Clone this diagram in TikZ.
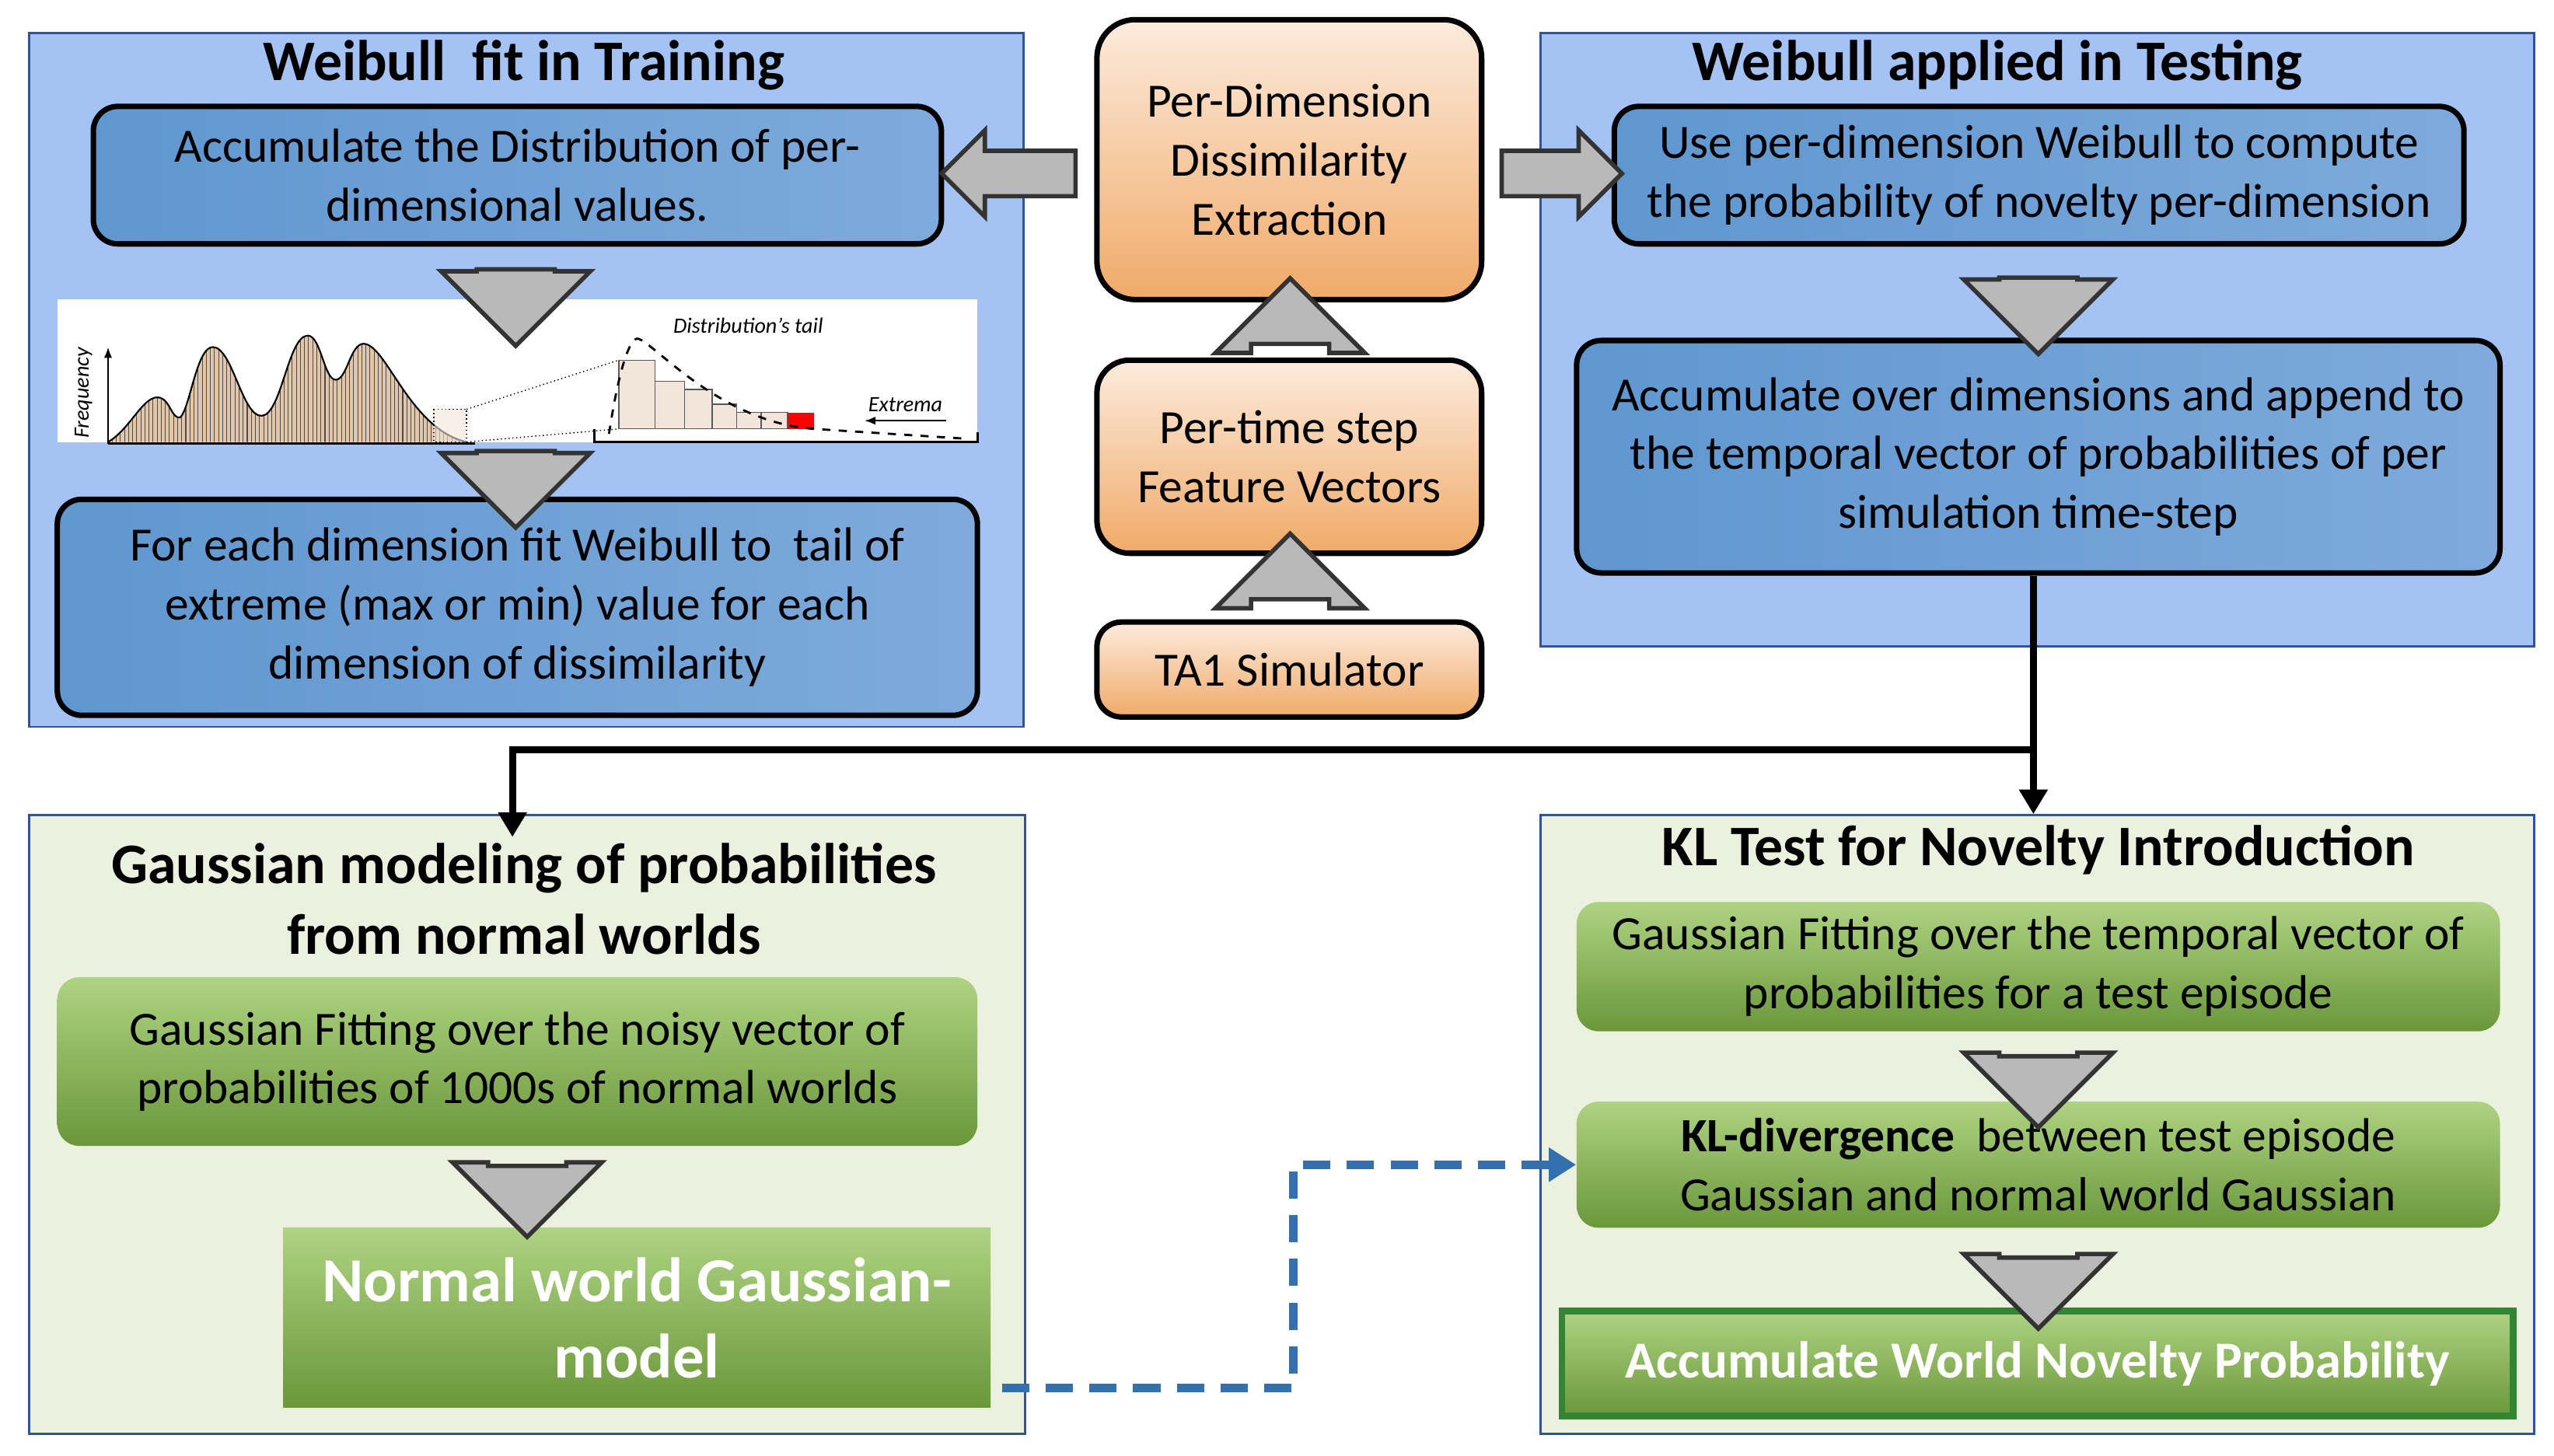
\documentclass[tikz,border=0pt]{standalone}
\usepackage{fontspec}
\setmainfont{Carlito}
\usetikzlibrary{shapes.arrows,fit,arrows.meta}
\definecolor{bbg}{HTML}{A4C2F4}
\definecolor{gbg}{HTML}{EBF1DE}
\definecolor{bord}{HTML}{2F5597}
\definecolor{bl1}{HTML}{5F97D0}
\definecolor{bl2}{HTML}{C9DCF1}
\definecolor{bl3}{HTML}{7FAADB}
\definecolor{or1}{HTML}{FCEBDD}
\definecolor{or2}{HTML}{F0AA68}
\definecolor{gr1}{HTML}{AED383}
\definecolor{gr2}{HTML}{6B973A}
\begin{document}
\begin{tikzpicture}[x=0.2106mm,y=-0.2106mm,
 panel/.style={draw=bord,line width=0.8pt,inner sep=0},
 txt/.style={align=center,font=\fontsize{17.5}{21.6}\selectfont,inner sep=0},
 bnode/.style={draw=black,line width=2pt,rounded corners=9pt,left color=bl1,middle color=bl2,right color=bl3,inner sep=0},
 onode/.style={draw=black,line width=2pt,rounded corners=14pt,top color=or1,bottom color=or2,inner sep=0},
 gnode/.style={rounded corners=8pt,top color=gr1,bottom color=gr2,inner sep=0},
 ttl/.style={font=\bfseries\fontsize{21}{26}\selectfont,align=center},
 barrow/.style={single arrow,draw=gray!40!black,fill=gray!55,line width=1.6pt,inner xsep=0pt,inner ysep=13.5pt,single arrow head extend=13pt,single arrow head indent=0pt,minimum height=28pt},
 harrow/.style={barrow,inner ysep=7.5pt,single arrow head extend=7.5pt},
 wt/.style={font=\itshape\fontsize{8}{9}\selectfont}
]
\useasboundingbox (0,0) rectangle (1560,889);
\fill[white] (0,0) rectangle (1560,889);
% panels
\node[panel,fill=bbg,fit={(18,20)(625,444)}] (P1) {};
\node[panel,fill=bbg,fit={(941,20)(1548,395)}] (P2) {};
\node[panel,fill=gbg,fit={(18,498)(626,876)}] (P3) {};
\node[panel,fill=gbg,fit={(941,498)(1548,876)}] (P4) {};
\node[ttl] (t1) at (320,40) {Weibull\ \ fit in Training};
\node[ttl] (t2) at (1220,40) {Weibull applied in Testing};
\node[ttl] (t3) at (320,549) {Gaussian modeling of probabilities\\[0pt] from normal worlds};
\node[ttl] (t4) at (1245,519) {KL Test for Novelty Introduction};
% left blue nodes
\node[bnode,fit={(57,65)(575,149)}] (A1) {};
\node[txt] (A1t) at (A1.center) {Accumulate the Distribution of per-\\dimensional values.};
\node[bnode,fit={(35,305)(597,437)}] (A2) {};
\node[txt] (A2t) at (A2.center) {For each dimension fit Weibull to\ \ tail of\\extreme (max or min) value for each\\dimension of dissimilarity};
% right blue nodes
\node[bnode,fit={(986,65)(1505,149)}] (B1) {};
\node[txt] (B1t) at (B1.center) {Use per-dimension Weibull to compute\\the probability of novelty per-dimension};
\node[bnode,fit={(963,208)(1527,350)}] (B2) {};
\node[txt] (B2t) at (B2.center) {Accumulate over dimensions and append to\\the temporal vector of probabilities of per\\simulation time-step};
% orange
\node[onode,fit={(670,12)(905,183)}] (O1) {};
\node[txt] (O1t) at (O1.center) {Per-Dimension\\Dissimilarity\\Extraction};
\node[onode,fit={(670,220)(905,338)},rounded corners=12pt] (O2) {};
\node[txt] (O2t) at (O2.center) {Per-time step\\Feature Vectors};
\node[onode,fit={(670,380)(905,438)},rounded corners=9pt] (O3) {};
\node[txt] (O3t) at (O3.center) {TA1 Simulator};
% green
\node[gnode,fit={(35,597)(597,700)}] (C1) {};
\node[txt] (C1t) at (C1.center) {Gaussian Fitting over the noisy vector of\\probabilities of 1000s of normal worlds};
\node[gnode,rounded corners=0pt,fit={(173,750)(605,860)}] (C2) {};
\node[txt,text=white,font=\bfseries\fontsize{23}{28}\selectfont] (C2t) at (C2.center) {Normal world Gaussian-\\model};
\node[gnode,fit={(963,551)(1527,630)}] (D1) {};
\node[txt] (D1t) at (D1.center) {Gaussian Fitting over the temporal vector of\\probabilities for a test episode};
\node[gnode,fit={(963,673)(1527,750)}] (D2) {};
\node[txt] (D2t) at (D2.center) {\textbf{KL-divergence}\ \ between test episode\\Gaussian and normal world Gaussian};
\node[gnode,rounded corners=0pt,draw=green!40!black!80,line width=2.5pt,fit={(954,801)(1535,865)}] (D3) {};
\node[txt,text=white,font=\bfseries\fontsize{19}{23}\selectfont] (D3t) at (D3.center) {Accumulate World Novelty Probability};
% histogram picture
\node[fill=white,inner sep=0,fit={(35,183)(597,270)}] (img) {};
\begin{scope}
\path[clip] (66,270) .. controls (80,262) and (88,240) .. (98,243) .. controls (104,245) and (105,256) .. (110,255)
 .. controls (116,250) and (120,212) .. (130,212) .. controls (142,212) and (148,255) .. (160,254)
 .. controls (172,253) and (176,205) .. (188,205) .. controls (196,205) and (198,232) .. (205,232)
 .. controls (212,232) and (214,210) .. (222,210) .. controls (236,210) and (250,262) .. (285,270) -- cycle;
\fill[brown!45] (60,200) rectangle (290,272);
\foreach \i in {66,68.5,...,286} \draw[black!70,line width=0.3pt] (\i,200) -- (\i,272);
\end{scope}
\draw[line width=0.6pt] (66,270) .. controls (80,262) and (88,240) .. (98,243) .. controls (104,245) and (105,256) .. (110,255)
 .. controls (116,250) and (120,212) .. (130,212) .. controls (142,212) and (148,255) .. (160,254)
 .. controls (172,253) and (176,205) .. (188,205) .. controls (196,205) and (198,232) .. (205,232)
 .. controls (212,232) and (214,210) .. (222,210) .. controls (236,210) and (250,262) .. (285,270);
\draw[-{Latex[length=4pt]},line width=0.7pt] (66,271) -- (66,212);
\draw[line width=0.8pt] (66,271) -- (290,271);
\node[rotate=90,wt] (fq) at (51,240) {Frequency};
\draw[densely dotted,fill=brown!20,fill opacity=0.6] (265,250) rectangle (285,270);
\draw[densely dotted] (285,250) -- (378,220) (285,270) -- (378,262);
\draw[line width=0.8pt] (363,262) -- (363,270) -- (597,270) -- (597,264);
\foreach \a/\b/\t in {378/400/220,400/418/233,418/435/238,435/450/247,450/465/252,465/481/252}
  \draw[fill=brown!20,draw=gray!70!black,line width=0.4pt] (\a,262) rectangle (\b,\t);
\fill[red] (481,252) rectangle (497,262);
\draw[dashed,line width=0.8pt] (372,265) .. controls (378,225) and (385,205) .. (390,207) .. controls (400,210) and (440,258) .. (497,262) -- (590,268);
\node[wt] (dt) at (457,199) {Distribution's tail};
\node[wt] (ex) at (553,247) {Extrema};
\coordinate (e1) at (578,257); \coordinate (e2) at (528,257);
\draw[-{Latex[length=4pt]},line width=0.7pt] (e1) -- (e2);
% block arrows
\node[barrow,rotate=-90] (a1) at (315,176) {};
\node[barrow,rotate=-90] (a2) at (315,287) {};
\node[barrow,rotate=90,minimum height=24pt] (a3) at (788,202) {};
\node[barrow,rotate=90,minimum height=24pt] (a4) at (788,358) {};
\node[harrow,rotate=180,minimum height=49pt] (a5) at (623,106) {};
\node[harrow,minimum height=44pt] (a6) at (947,106) {};
\node[barrow,rotate=-90] (a7) at (1245,181) {};
\node[barrow,rotate=-90,minimum height=26pt] (a8) at (322,722) {};
\node[barrow,rotate=-90,minimum height=26pt] (a9) at (1245,655) {};
\node[barrow,rotate=-90,minimum height=26pt] (a10) at (1245,778) {};
% black connectors
\coordinate (j) at (1242,458);
\draw[line width=2.6pt,-{Triangle[length=9pt,width=10pt]}] (B2.south -| j) -- (P4.north -| j);
\draw[line width=2.6pt,-{Triangle[length=9pt,width=10pt]}] (j) -| ([xshift=-9*0.2106mm,yshift=-14*0.2106mm]P3.north);
% dashed blue
\coordinate (ds) at (612,848);
\coordinate (dm) at (790,848);
\draw[draw=blue!50!cyan!60!black!80,line width=3.2pt,dash pattern=on 10pt off 6pt,-{Triangle[length=10pt,width=12pt]}] (ds) -- (dm) -- (dm |- D2.west) -- (D2.west);
\end{tikzpicture}
\end{document}
